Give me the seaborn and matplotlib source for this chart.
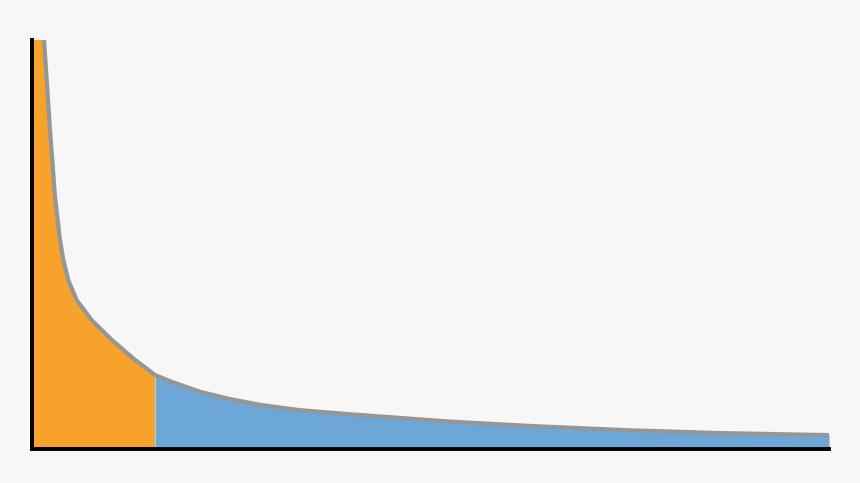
import matplotlib
matplotlib.use("Agg")
import matplotlib.pyplot as plt
import pandas as pd
import seaborn as sns

# long-tail curve (x = rank share 0..100, y = volume 0..100)
rank = [0.0, 0.6, 1.51, 2.26, 2.89, 3.51, 3.93, 4.55, 5.61, 7.49, 10.0, 12.92,
        15.43, 17.3, 21.08, 24.84, 28.6, 33.6, 39.9, 46.2, 52.4, 62.9, 74.7,
        86.3, 100.0]
volume = [190.0, 140.0, 100.0, 78.0, 61.6, 51.1, 46.2, 41.3, 36.4, 31.5, 26.7,
          21.8, 18.1, 16.6, 14.0, 12.2, 10.8, 9.5, 8.5, 7.6, 6.7, 5.6, 4.6,
          3.9, 3.4]
head_cut = 15.43  # split between head (orange) and tail (blue)

df = pd.DataFrame({"rank": rank, "volume": volume})
head = df[df["rank"] <= head_cut]
tail = df[df["rank"] >= head_cut]

bg = "#f7f7f7"
sns.set_style("white")
fig = plt.figure(figsize=(8.6, 4.83), dpi=100, facecolor=bg)
ax = fig.add_axes([32 / 860, (483 - 449) / 483, (829 - 32) / 860, (449 - 40) / 483])
ax.set_facecolor(bg)

ax.fill_between(head["rank"], 0, head["volume"], color="#f6a22b", lw=0)
ax.fill_between(tail["rank"], 0, tail["volume"], color="#6da7d8", lw=0)
sns.lineplot(data=df, x="rank", y="volume", color="#969696", lw=3, ax=ax,
             sort=False, solid_joinstyle="round")

ax.set_xlim(0, 100)
ax.set_ylim(0, 100)
ax.set_xticks([])
ax.set_yticks([])
ax.set_xlabel("")
ax.set_ylabel("")
for side in ["top", "right"]:
    ax.spines[side].set_visible(False)
for side in ["left", "bottom"]:
    ax.spines[side].set_color("black")
    ax.spines[side].set_linewidth(2.8)

fig.savefig("out.png", dpi=100, facecolor=bg)
